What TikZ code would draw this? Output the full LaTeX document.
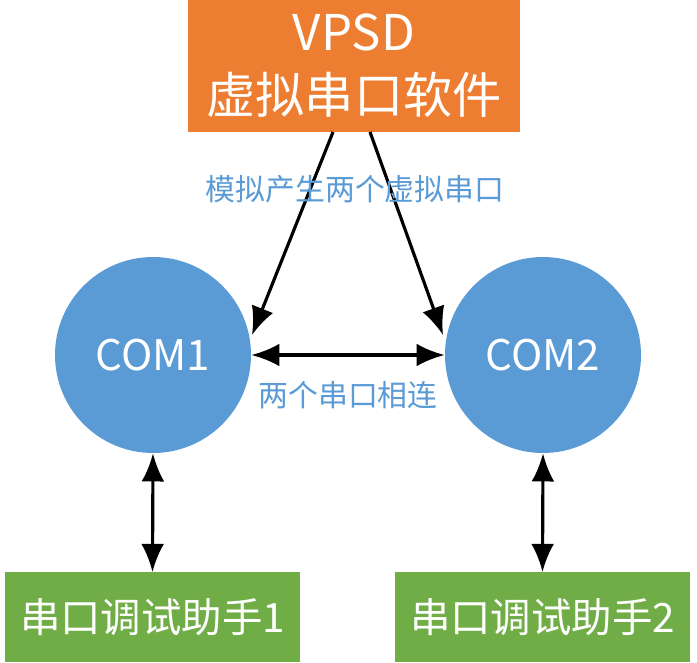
\documentclass[tikz,border=0pt]{standalone}
\usepackage{fontspec}
\newfontfamily\cjk{Noto Sans CJK SC}
\usetikzlibrary{arrows.meta}
\definecolor{vorange}{HTML}{ED7D31}
\definecolor{vblue}{HTML}{5B9BD5}
\definecolor{vgreen}{HTML}{70AD47}
\tikzset{
  port/.style={circle, fill=vblue, minimum size=3.92cm, text=white, font=\cjk\fontsize{24}{28}\selectfont},
  tool/.style={fill=vgreen, minimum width=5.9cm, minimum height=1.8cm, text=white, font=\cjk\fontsize{23}{28}\selectfont},
  link/.style={line width=1.8pt, -{Latex[length=16pt,width=13pt]}},
  blink/.style={line width=1.8pt, {Latex[length=16pt,width=13pt]}-{Latex[length=16pt,width=13pt]}},
  note/.style={text=vblue, font=\cjk\fontsize{17}{20}\selectfont}
}
\begin{document}
\begin{tikzpicture}
  \useasboundingbox (0,0) rectangle (13.94,13.24);
  \node[fill=vorange, minimum width=6.64cm, minimum height=2.64cm, text=white, align=center,
        font=\cjk\fontsize{28}{36}\selectfont] (vpsd) at (7.08,11.92) {VPSD\\虚拟串口软件};
  \node[port] (com1) at (3.06,6.14) {COM1};
  \node[port] (com2) at (10.86,6.14) {COM2};
  \node[tool, anchor=north] (tool1) at (3.05,1.8) {串口调试助手1};
  \node[tool, anchor=north] (tool2) at (10.85,1.8) {串口调试助手2};
  % links
  \coordinate (v1) at (6.66,10.6);
  \coordinate (v2) at (7.40,10.6);
  \coordinate (c1) at (5.04,6.54);
  \coordinate (c2) at (8.86,6.54);
  \draw[link] (v1) -- (c1);
  \draw[link] (v2) -- (c2);
  \draw[blink] (com1.east) -- (com2.west);
  \draw[blink] (com1.south) -- (tool1.north);
  \draw[blink] (com2.south) -- (tool2.north);
  \node[note] (n1) at (7.1,9.45) {模拟产生两个虚拟串口};
  \node[note] (n2) at (6.96,5.34) {两个串口相连};
\end{tikzpicture}
\end{document}
